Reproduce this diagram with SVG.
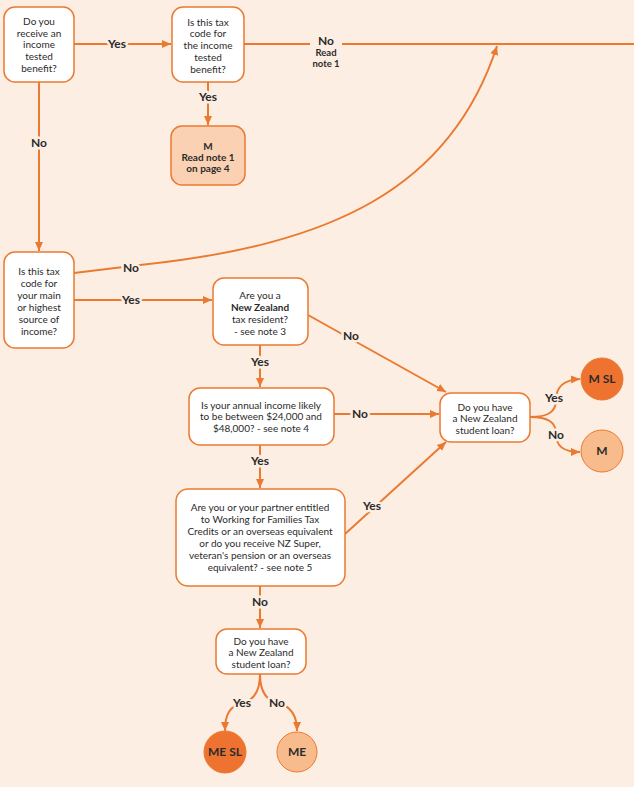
<svg xmlns="http://www.w3.org/2000/svg" width="634" height="787" viewBox="0 0 634 787">
<defs>
<marker id="ah" markerWidth="10" markerHeight="10" refX="9" refY="5" orient="auto" markerUnits="userSpaceOnUse">
<path d="M0,1 L9,5 L0,9 Z" fill="#EB7A31"/>
</marker>
<style>
.bg{fill:#FDEEE3}
.box{fill:#FFFFFF;stroke:#EB7A31;stroke-width:1.5}
.term{fill:#FAD2B3;stroke:#EB7A31;stroke-width:1.5}
.c1{fill:#EE7330;stroke:#EB7A31;stroke-width:1}
.c2{fill:#F8BB8C;stroke:#EB7A31;stroke-width:1}
.ln{fill:none;stroke:#EB7A31;stroke-width:2}
text{font-family:Lato,"Open Sans","Liberation Sans",sans-serif;fill:#2B2B2B;text-anchor:middle}
.t{font-size:10px}
.b{font-weight:bold}
.lb{font-size:12px;font-weight:bold;paint-order:stroke;stroke:#FDEEE3;stroke-width:5px;stroke-linejoin:round}
.ls{font-size:9.5px;font-weight:bold}
.ct{font-size:12px;font-weight:bold}
</style>
</defs>
<rect class="bg" x="0" y="0" width="634" height="787"/>
<g id="connectors">
<path class="ln" d="M74,44 L171,44" marker-end="url(#ah)"/>
<path class="ln" d="M244,44 L310,44 M342,44 L634,44"/>
<path class="ln" d="M208,82 L208,125" marker-end="url(#ah)"/>
<path class="ln" d="M39,82 L39,251" marker-end="url(#ah)"/>
<path class="ln" d="M74,273 L140,265 C330,245 450,190 497,46" marker-end="url(#ah)"/>
<path class="ln" d="M74,300 L212,300" marker-end="url(#ah)"/>
<path class="ln" d="M260,345 L260,387" marker-end="url(#ah)"/>
<path class="ln" d="M308,315 L446,392" marker-end="url(#ah)"/>
<path class="ln" d="M334,414 L439,414" marker-end="url(#ah)"/>
<path class="ln" d="M260,445 L260,488" marker-end="url(#ah)"/>
<path class="ln" d="M345,534 L446,442" marker-end="url(#ah)"/>
<path class="ln" d="M260,586 L260,628" marker-end="url(#ah)"/>
<path class="ln" d="M530,417 C548,417 556,412 556,400 C556,387 563,380 580,379" marker-end="url(#ah)"/>
<path class="ln" d="M530,417 C548,417 556,422 556,434 C556,446 563,452 580,452" marker-end="url(#ah)"/>
<path class="ln" d="M260,674 C260,694 252,701 242,703 C230,706 225,714 225,731" marker-end="url(#ah)"/>
<path class="ln" d="M260,674 C260,694 268,701 278,703 C290,706 297,714 297,731" marker-end="url(#ah)"/>
<text class="lb" x="117" y="48">Yes</text>
<text class="ct" x="326" y="45">No</text>
<text class="ls" x="326" y="56">Read</text>
<text class="ls" x="326" y="67">note 1</text>
<text class="lb" x="208" y="101">Yes</text>
<text class="lb" x="39" y="147">No</text>
<text class="lb" x="131" y="272">No</text>
<text class="lb" x="131" y="304">Yes</text>
<text class="lb" x="351" y="340">No</text>
<text class="lb" x="260" y="366">Yes</text>
<text class="lb" x="360" y="418">No</text>
<text class="lb" x="260" y="465">Yes</text>
<text class="lb" x="372" y="510">Yes</text>
<text class="lb" x="260" y="606">No</text>
<text class="lb" x="554" y="402">Yes</text>
<text class="lb" x="556" y="439">No</text>
<text class="lb" x="242" y="707">Yes</text>
<text class="lb" x="277" y="707">No</text>
</g>
<g id="n1">
<rect class="box" x="4" y="7" width="70" height="75" rx="11"/>
<text class="t" x="39" y="25">Do you</text>
<text class="t" x="39" y="37">receive an</text>
<text class="t" x="39" y="48">income</text>
<text class="t" x="39" y="60">tested</text>
<text class="t" x="39" y="72">benefit?</text>
</g>
<g id="n2">
<rect class="box" x="172" y="7" width="72" height="75" rx="11"/>
<text class="t" x="208" y="26">Is this tax</text>
<text class="t" x="208" y="37">code for</text>
<text class="t" x="208" y="49">the income</text>
<text class="t" x="208" y="61">tested</text>
<text class="t" x="208" y="73">benefit?</text>
</g>
<g id="m1">
<rect class="term" x="171" y="126" width="74" height="59" rx="11"/>
<text class="t b" x="208" y="150">M</text>
<text class="t b" x="208" y="161">Read note 1</text>
<text class="t b" x="208" y="172">on page 4</text>
</g>
<g id="n3">
<rect class="box" x="4" y="252" width="70" height="96" rx="11"/>
<text class="t" x="39" y="275">Is this tax</text>
<text class="t" x="39" y="287">code for</text>
<text class="t" x="39" y="299">your main</text>
<text class="t" x="39" y="311">or highest</text>
<text class="t" x="39" y="323">source of</text>
<text class="t" x="39" y="335">income?</text>
</g>
<g id="n4">
<rect class="box" x="213" y="278" width="95" height="67" rx="11"/>
<text class="t" x="260" y="299">Are you a</text>
<text class="t b" x="260" y="311">New Zealand</text>
<text class="t" x="260" y="323">tax resident?</text>
<text class="t" x="260" y="335">- see note 3</text>
</g>
<g id="n5">
<rect class="box" x="189" y="388" width="145" height="57" rx="11"/>
<text class="t" x="261" y="409">Is your annual income likely</text>
<text class="t" x="261" y="420">to be between $24,000 and</text>
<text class="t" x="261" y="432">$48,000? - see note 4</text>
</g>
<g id="n6">
<rect class="box" x="440" y="393" width="90" height="49" rx="11"/>
<text class="t" x="485" y="411">Do you have</text>
<text class="t" x="485" y="422">a New Zealand</text>
<text class="t" x="485" y="434">student loan?</text>
</g>
<g id="msl">
<circle class="c1" cx="602" cy="379" r="21"/>
<text class="ct" x="602" y="383">M SL</text>
</g>
<g id="m2">
<circle class="c2" cx="602" cy="451" r="21"/>
<text class="ct" x="602" y="455">M</text>
</g>
<g id="n7">
<rect class="box" x="176" y="489" width="169" height="97" rx="12"/>
<text class="t" x="260" y="511">Are you or your partner entitled</text>
<text class="t" x="260" y="523">to Working for Families Tax</text>
<text class="t" x="260" y="535">Credits or an overseas equivalent</text>
<text class="t" x="260" y="547">or do you receive NZ Super,</text>
<text class="t" x="260" y="559">veteran's pension or an overseas</text>
<text class="t" x="260" y="571">equivalent? - see note 5</text>
</g>
<g id="n8">
<rect class="box" x="216" y="629" width="90" height="45" rx="11"/>
<text class="t" x="261" y="645">Do you have</text>
<text class="t" x="261" y="656">a New Zealand</text>
<text class="t" x="261" y="668">student loan?</text>
</g>
<g id="mesl">
<circle class="c1" cx="225" cy="752" r="21"/>
<text class="ct" x="225" y="756">ME SL</text>
</g>
<g id="me">
<circle class="c2" cx="297" cy="752" r="20"/>
<text class="ct" x="297" y="756">ME</text>
</g>
</svg>
